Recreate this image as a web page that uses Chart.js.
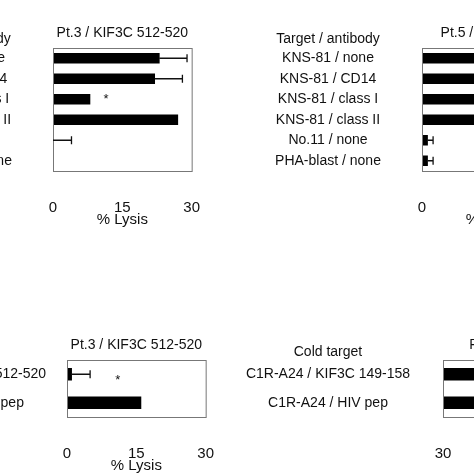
<!DOCTYPE html>
<html>
<head>
<meta charset="utf-8">
<script src="https://cdn.jsdelivr.net/npm/chart.js@4"></script>
<style>
  html,body{margin:0;padding:0;width:474px;height:474px;overflow:hidden;background:#fff;}
  canvas{position:absolute;}
</style>
</head>
<body>
<canvas id="tl"></canvas>
<canvas id="tr"></canvas>
<canvas id="bl"></canvas>
<canvas id="br"></canvas>
<script>
// data
const antibodyRows = ["KNS-81 / none","KNS-81 / CD14","KNS-81 / class I","KNS-81 / class II","No.11 / none","PHA-blast / none"];
const pt3Lysis = [23, 22, 8, 27, 0, 0];
const pt3Err = [29, 28, null, null, 4, null];
const pt5Lysis = [24, 22, 21, 23, 1.2, 1.2];
const pt5Err = [null, null, null, null, 2.4, 2.4];
const coldRowsLeft = ["C1R-A24 / KIF3C 512-520","C1R-A24 / HIV pep"];
const coldLysisLeft = [1, 16];
const coldErrLeft = [5, null];
const coldRowsRight = ["C1R-A24 / KIF3C 149-158","C1R-A24 / HIV pep"];
const coldLysisRight = [30, 30];
const coldErrRight = [null, null];
const xTicks = [0, 15, 30];

const FONT = "'Liberation Sans', Arial, sans-serif";
const AXIS_W = 253, CW = 420;

function makePanel(id, o){
  const c = document.getElementById(id);
  c.style.left = (o.plotLeft - AXIS_W) + "px";
  c.style.top = "0px";
  c.width = CW; c.height = o.bottom + 60;
  c.style.width = CW + "px"; c.style.height = (o.bottom + 60) + "px";
  const textPlugin = {
    id: "texts",
    afterDraw(ch){
      const ctx = ch.ctx, a = ch.chartArea, xs = ch.scales.x, ys = ch.scales.y;
      ctx.save();
      ctx.strokeStyle = "#777"; ctx.lineWidth = 1;
      ctx.strokeRect(a.left + 0.5, a.top + 0.5, a.right - a.left, a.bottom - a.top);
      // error bars
      ctx.strokeStyle = "#111"; ctx.lineWidth = 1.3;
      o.err.forEach((e, i) => {
        if (e == null) return;
        const y = ys.getPixelForValue(i);
        const x0 = xs.getPixelForValue(o.values[i]), x1 = xs.getPixelForValue(e);
        ctx.beginPath(); ctx.moveTo(x0, y); ctx.lineTo(x1, y);
        ctx.moveTo(x1, y - 4); ctx.lineTo(x1, y + 4); ctx.stroke();
      });
      ctx.fillStyle = "#111"; ctx.textAlign = "center"; ctx.textBaseline = "middle";
      ctx.font = "14px " + FONT;
      ctx.fillText(o.title, (a.left + a.right) / 2 + (o.titleShift || 0), a.top - 15);
      const lx = a.left - o.labelOff;
      if (o.header) ctx.fillText(o.header, lx, a.top - o.headerGap);
      o.labels.forEach((l, i) => ctx.fillText(l, lx, ys.getPixelForValue(i)));
      ctx.font = "15px " + FONT;
      ctx.fillText("% Lysis", (a.left + a.right) / 2, a.bottom + 49);
      if (o.star) {
        ctx.font = "13px " + FONT;
        ctx.fillText("*", xs.getPixelForValue(o.star[0]), ys.getPixelForValue(o.star[1]) + o.star[2]);
      }
      ctx.restore();
    }
  };
  return new Chart(c, {
    type: "bar",
    data: { labels: o.labels, datasets: [{ data: o.values, backgroundColor: "#000", barThickness: o.thick }] },
    options: {
      indexAxis: "y", responsive: false, animation: false,
      layout: { padding: { top: o.top, right: CW - AXIS_W - o.plotWidth, left: 0, bottom: 0 } },
      plugins: { legend: { display: false }, tooltip: { enabled: false } },
      scales: {
        x: {
          min: 0, max: 30, reverse: !!o.reverse,
          afterBuildTicks: s => { s.ticks = xTicks.map(v => ({ value: v })); },
          afterFit: s => { s.height = 60; },
          grid: { display: false }, border: { display: false },
          ticks: { padding: 20, color: "#111", font: { family: FONT, size: 15 } }
        },
        y: {
          afterFit: s => { s.width = AXIS_W; },
          grid: { display: false }, border: { display: false },
          ticks: { display: false }
        }
      }
    },
    plugins: [textPlugin]
  });
}

makePanel("tl", { plotLeft: 53, plotWidth: 153, top: 48, bottom: 171, labels: antibodyRows,
  values: pt3Lysis, err: pt3Err, thick: 10, title: "Pt.3 / KIF3C 512-520", header: "Target / antibody",
  headerGap: 9, labelOff: 94, star: [11.5, 2, 0] });
makePanel("tr", { plotLeft: 422, plotWidth: 154, top: 48, bottom: 171, labels: antibodyRows,
  values: pt5Lysis, err: pt5Err, thick: 10, title: "Pt.5 / KIF3C 512-520", titleShift: 15, header: "Target / antibody",
  headerGap: 9, labelOff: 94 });
makePanel("bl", { plotLeft: 67, plotWidth: 148, top: 360, bottom: 417, labels: coldRowsLeft,
  values: coldLysisLeft, err: coldErrLeft, thick: 12, title: "Pt.3 / KIF3C 512-520", header: "Cold target",
  headerGap: 8, labelOff: 103, star: [11, 0, 6] });
makePanel("br", { plotLeft: 443, plotWidth: 154, top: 360, bottom: 417, labels: coldRowsRight,
  values: coldLysisRight, err: coldErrRight, thick: 12, title: "Pt.5 / KIF3C 149-158", titleShift: 15, header: "Cold target",
  headerGap: 8, labelOff: 115, reverse: true });
</script>
</body>
</html>
